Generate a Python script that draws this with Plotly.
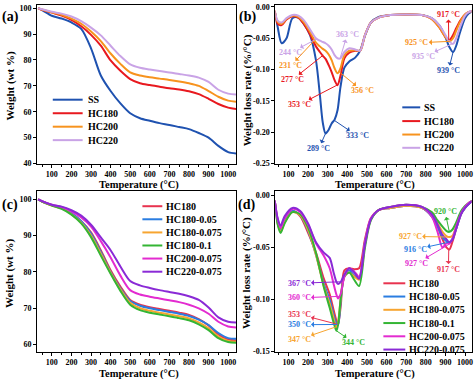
import plotly.graph_objects as go

W, H = 474, 385
FONT = "Liberation Serif"

# ---------------- DATA ----------------
# TG temperatures (°C)
T_tg = [30, 50, 100, 150, 200, 250, 300, 350, 400, 450, 500, 550, 600, 650, 700, 750, 800, 850, 900, 950, 1000, 1040]

# Panel (a) TG (wt %)
a_names = ["SS", "HC180", "HC200", "HC220"]
a_SS = [100, 99.3, 97.1, 96.0, 94.5, 92.0, 84.5, 74.0, 68.0, 63.2, 59.4, 57.5, 56.5, 55.6, 54.9, 54.1, 53.3, 51.8, 50.0, 46.8, 44.4, 43.9]
a_HC180 = [100, 99.4, 98.3, 97.2, 95.5, 93.0, 89.7, 85.5, 79.8, 75.8, 72.6, 71.0, 70.3, 69.7, 69.1, 68.6, 67.9, 66.8, 65.0, 63.0, 61.6, 61.1]
a_HC200 = [100, 99.5, 98.4, 97.5, 96.0, 94.0, 91.0, 87.3, 82.5, 78.5, 75.2, 74.0, 73.3, 72.8, 72.3, 71.7, 71.0, 70.0, 68.0, 65.8, 64.3, 63.9]
a_HC220 = [100, 99.6, 98.6, 97.9, 96.8, 95.0, 92.5, 89.5, 85.5, 81.5, 78.3, 77.0, 76.3, 75.7, 75.2, 74.6, 74.0, 73.2, 71.5, 68.5, 67.0, 66.7]

# Panel (b) DTG (%/°C)
T_b = [30, 45, 65, 90, 120, 150, 180, 210, 240, 260, 275, 289, 305, 320, 335, 350, 365, 385, 410, 440, 465,
       490, 520, 560, 620, 700, 780, 830, 870, 900, 920, 939, 955, 975, 1000, 1020, 1040]
b_SS = [-0.007, -0.032, -0.058, -0.050, -0.018, -0.017, -0.028, -0.045, -0.085, -0.140, -0.185, -0.202, -0.196,
        -0.186, -0.180, -0.165, -0.128, -0.097, -0.087, -0.081, -0.070, -0.046, -0.025, -0.016, -0.013, -0.012,
        -0.013, -0.018, -0.030, -0.048, -0.064, -0.072, -0.062, -0.040, -0.018, -0.010, -0.007]
b_HC180 = [-0.006, -0.027, -0.029, -0.020, -0.015, -0.017, -0.028, -0.044, -0.063, -0.072, -0.078, -0.083, -0.093,
           -0.104, -0.117, -0.125, -0.110, -0.082, -0.073, -0.070, -0.070, -0.045, -0.025, -0.017, -0.013, -0.012,
           -0.013, -0.019, -0.033, -0.048, -0.053, -0.045, -0.034, -0.022, -0.012, -0.008, -0.006]
b_HC200 = [-0.006, -0.024, -0.027, -0.019, -0.014, -0.016, -0.025, -0.040, -0.057, -0.063, -0.067, -0.070, -0.076,
           -0.085, -0.098, -0.106, -0.098, -0.077, -0.070, -0.069, -0.070, -0.045, -0.025, -0.017, -0.013, -0.012,
           -0.013, -0.019, -0.033, -0.048, -0.055, -0.050, -0.038, -0.024, -0.012, -0.008, -0.006]
b_HC220 = [-0.006, -0.022, -0.025, -0.018, -0.013, -0.014, -0.022, -0.036, -0.050, -0.054, -0.056, -0.058, -0.062,
           -0.068, -0.077, -0.082, -0.082, -0.072, -0.066, -0.068, -0.070, -0.045, -0.025, -0.017, -0.013, -0.012,
           -0.013, -0.018, -0.030, -0.045, -0.055, -0.059, -0.050, -0.032, -0.014, -0.008, -0.006]

# Panel (c) TG (wt %)
c_names = ["HC180", "HC180-0.05", "HC180-0.075", "HC180-0.1", "HC200-0.075", "HC220-0.075"]
c_HC180 = [100, 99.4, 98.4, 97.6, 96.1, 94.0, 90.9, 86.0, 80.5, 76.0, 72.3, 71.0, 70.3, 69.8, 69.3, 68.8, 68.2, 67.0, 65.3, 62.8, 61.4, 61.2]
c_HC180_005 = [100, 99.4, 98.4, 97.7, 96.2, 94.0, 90.6, 85.5, 80.0, 75.5, 72.0, 70.7, 70.0, 69.5, 69.0, 68.5, 67.9, 66.9, 65.4, 63.2, 61.8, 61.6]
c_HC180_0075 = [100, 99.4, 98.3, 97.5, 95.9, 93.6, 90.0, 85.0, 79.8, 75.2, 71.5, 70.0, 69.3, 68.8, 68.3, 67.8, 67.2, 66.1, 64.5, 62.2, 61.0, 60.8]
c_HC180_01 = [100, 99.4, 98.3, 97.4, 95.8, 93.4, 89.6, 84.5, 79.5, 74.8, 71.0, 69.5, 68.8, 68.3, 67.8, 67.3, 66.7, 65.6, 64.0, 61.8, 60.7, 60.5]
c_HC200_0075 = [100, 99.5, 98.5, 97.9, 96.7, 95.0, 92.5, 88.5, 84.0, 79.0, 75.0, 73.8, 73.2, 72.7, 72.2, 71.7, 71.0, 70.0, 68.5, 66.3, 65.0, 64.7]
c_HC220_0075 = [100, 99.5, 98.5, 98.0, 97.0, 95.5, 93.0, 89.5, 86.0, 81.5, 77.5, 76.3, 75.6, 75.0, 74.5, 74.0, 73.3, 72.3, 70.2, 67.5, 66.3, 66.1]

# Panel (d) DTG (%/°C)
T_d = [30, 45, 60, 80, 120, 160, 200, 240, 280, 310, 330, 344, 353, 367, 385, 410, 435, 460, 490, 520, 560,
       620, 700, 780, 830, 860, 885, 905, 920, 935, 955, 980, 1000, 1020, 1040]
d_HC180 = [-0.005, -0.024, -0.032, -0.024, -0.015, -0.020, -0.036, -0.055, -0.080, -0.095, -0.110, -0.120, -0.124,
           -0.105, -0.072, -0.070, -0.071, -0.070, -0.042, -0.022, -0.014, -0.012, -0.010, -0.012, -0.020, -0.030,
           -0.042, -0.050, -0.052, -0.045, -0.032, -0.018, -0.012, -0.008, -0.005]
d_HC180_005 = [-0.005, -0.026, -0.034, -0.025, -0.015, -0.019, -0.034, -0.057, -0.085, -0.100, -0.115, -0.123, -0.124,
               -0.100, -0.077, -0.072, -0.077, -0.080, -0.045, -0.023, -0.014, -0.012, -0.010, -0.012, -0.020, -0.030,
               -0.040, -0.044, -0.045, -0.042, -0.032, -0.018, -0.012, -0.008, -0.005]
d_HC180_0075 = [-0.005, -0.027, -0.035, -0.026, -0.016, -0.019, -0.033, -0.057, -0.087, -0.104, -0.118, -0.127, -0.122,
                -0.098, -0.078, -0.074, -0.078, -0.081, -0.047, -0.023, -0.014, -0.012, -0.010, -0.012, -0.018, -0.027,
                -0.035, -0.039, -0.040, -0.039, -0.030, -0.017, -0.011, -0.007, -0.005]
d_HC180_01 = [-0.005, -0.028, -0.036, -0.027, -0.016, -0.018, -0.031, -0.055, -0.088, -0.108, -0.122, -0.130, -0.124,
              -0.098, -0.078, -0.074, -0.081, -0.087, -0.050, -0.024, -0.014, -0.011, -0.009, -0.011, -0.016, -0.024,
              -0.030, -0.034, -0.035, -0.033, -0.026, -0.015, -0.010, -0.007, -0.005]
d_HC200_0075 = [-0.005, -0.023, -0.031, -0.022, -0.013, -0.016, -0.028, -0.046, -0.058, -0.070, -0.085, -0.095, -0.099,
                -0.094, -0.078, -0.070, -0.073, -0.078, -0.045, -0.022, -0.014, -0.011, -0.009, -0.011, -0.020, -0.035,
                -0.050, -0.046, -0.046, -0.042, -0.030, -0.017, -0.011, -0.007, -0.005]
d_HC220_0075 = [-0.005, -0.022, -0.029, -0.020, -0.012, -0.015, -0.027, -0.045, -0.055, -0.060, -0.074, -0.083, -0.085,
                -0.083, -0.076, -0.070, -0.074, -0.080, -0.047, -0.023, -0.014, -0.011, -0.009, -0.011, -0.018, -0.028,
                -0.038, -0.042, -0.045, -0.043, -0.032, -0.018, -0.012, -0.008, -0.005]

# Peak annotations: (label temperature, DTG value at peak, series index)
b_peak_T = [244, 363, 231, 277, 353, 356, 289, 333, 917, 925, 935, 939]
b_peak_V = [-0.051, -0.082, -0.054, -0.077, -0.124, -0.103, -0.202, -0.181, -0.053, -0.055, -0.059, -0.072]
b_peak_S = [3, 3, 2, 1, 1, 2, 0, 0, 1, 2, 3, 0]
d_peak_T = [920, 927, 916, 927, 917, 367, 360, 353, 350, 347, 344]
d_peak_V = [-0.035, -0.040, -0.045, -0.046, -0.052, -0.083, -0.097, -0.124, -0.124, -0.126, -0.130]
d_peak_S = [3, 2, 1, 4, 0, 5, 4, 0, 1, 2, 3]

# ---------------- STYLE / LAYOUT ----------------
a_colors = ["#1f52b0", "#e8191f", "#f7931e", "#c9a3e6"]
c_colors = ["#e8334f", "#2a7de1", "#f7a530", "#34b534", "#e32bd0", "#8a2ad6"]

# label text centres (data coords of each panel)
b_label_pos = [(111.7, -0.073), (399.5, -0.0442), (111.7, -0.094), (120.3, -0.1161), (153.8, -0.1563),
               (475.6, -0.1339), (255.3, -0.2255), (450.3, -0.2058), (915.2, -0.012), (754.8, -0.0573),
               (788.3, -0.0797), (915.2, -0.1016)]
d_label_pos = [(898.5, -0.0158), (720.8, -0.0393), (746.2, -0.0519), (754.8, -0.0651), (915.2, -0.0708),
               (153.8, -0.0843), (153.8, -0.0984), (153.8, -0.1142), (153.8, -0.1242), (153.8, -0.1384),
               (433.0, -0.1415)]

fig = go.Figure()

def add_lines(xs, series, colors, names, xa, ya):
    for s, c, n in zip(series, colors, names):
        fig.add_trace(go.Scatter(x=xs, y=s, mode="lines", name=n, showlegend=False,
                                 line=dict(color=c, width=2, shape="spline", smoothing=0.8),
                                 xaxis=xa, yaxis=ya))

add_lines(T_tg, [a_SS, a_HC180, a_HC200, a_HC220], a_colors, a_names, "x", "y")
add_lines(T_b, [b_SS, b_HC180, b_HC200, b_HC220], a_colors, a_names, "x2", "y2")
add_lines(T_tg, [c_HC180, c_HC180_005, c_HC180_0075, c_HC180_01, c_HC200_0075, c_HC220_0075], c_colors, c_names, "x3", "y3")
add_lines(T_d, [d_HC180, d_HC180_005, d_HC180_0075, d_HC180_01, d_HC200_0075, d_HC220_0075], c_colors, c_names, "x4", "y4")

tickfont = dict(family=FONT, size=8, color="black", weight="bold")

def xax(domain, rng, anchor):
    return dict(domain=domain, range=rng, anchor=anchor, showline=True, linecolor="black", linewidth=1,
                mirror=True, ticks="outside", ticklen=3, tickcolor="black", tickmode="linear", tick0=100,
                dtick=100, minor=dict(ticks="outside", ticklen=2, dtick=50, tickcolor="black"),
                showgrid=False, zeroline=False, tickfont=tickfont, ticklabeloverflow="allow")

def yax(domain, rng, anchor, vals, texts):
    return dict(domain=domain, range=rng, anchor=anchor, showline=True, linecolor="black", linewidth=1,
                mirror=True, ticks="outside", ticklen=3, tickcolor="black", tickmode="array",
                tickvals=vals, ticktext=texts, showgrid=False, zeroline=False, tickfont=tickfont,
                ticklabeloverflow="allow")

top_dom = [1 - 164.5 / H, 1 - 2.9 / H]
bot_dom = [1 - 356 / H, 1 - 193 / H]
left_dom = [37.3 / W, 237 / W]
right_dom = [276.5 / W, 473.5 / W]

a_ticks = [40, 50, 60, 70, 80, 90, 100]
b_ticks = [0.0, -0.05, -0.10, -0.15, -0.20, -0.25]
c_ticks = [60, 70, 80, 90, 100]
d_ticks = [0.0, -0.05, -0.10, -0.15]
fmt = lambda v: ("%.2f" % v).replace("-0.00", "0.00")

fig.update_layout(
    width=W, height=H, margin=dict(l=0, r=0, t=0, b=0),
    paper_bgcolor="white", plot_bgcolor="white",
    font=dict(family=FONT, color="black"),
    xaxis=xax(left_dom, [25, 1040], "y"),
    yaxis=yax(top_dom, [40, 101.3], "x", a_ticks, [str(v) for v in a_ticks]),
    xaxis2=xax(right_dom, [33, 1033], "y2"),
    yaxis2=yax(top_dom, [-0.25, 0.0033], "x2", b_ticks, [fmt(v) for v in b_ticks]),
    xaxis3=xax(left_dom, [25, 1040], "y3"),
    yaxis3=yax(bot_dom, [58.1, 102.16], "x3", c_ticks, [str(v) for v in c_ticks]),
    xaxis4=xax(right_dom, [33, 1033], "y4"),
    yaxis4=yax(bot_dom, [-0.15, 0.0038], "x4", d_ticks, [fmt(v) for v in d_ticks]),
)

def ptxt(px, py, text, size, xanchor="center", **kw):
    fig.add_annotation(x=px / W, y=1 - py / H, xref="paper", yref="paper", text=text, showarrow=False,
                       xanchor=xanchor, yanchor="middle",
                       font=dict(family=FONT, size=size, color="black", weight="bold"), **kw)

# axis titles
for cx, cy in [(140, 186.5), (377, 186.5), (140, 378.5), (377, 378.5)]:
    ptxt(cx, cy, "Temperature (°C)", 10.5)
ptxt(10, 85, "Weight (wt %)", 11, textangle=-90)
ptxt(248, 90, "Weight loss rate (%/°C)", 11, textangle=-90)
ptxt(10, 276, "Weight (wt %)", 11, textangle=-90)
ptxt(248, 276, "Weight loss rate (%/°C)", 11, textangle=-90)

# panel labels
ptxt(11, 15, "(a)", 14)
ptxt(249, 15, "(b)", 14)
ptxt(10, 207, "(c)", 14)
ptxt(248, 207, "(d)", 14)

# legends (manual, compact)
def legend(names, colors, x0, x1, xt, ys, size):
    for n, c, yy in zip(names, colors, ys):
        fig.add_shape(type="line", xref="paper", yref="paper", x0=x0 / W, x1=x1 / W,
                      y0=1 - yy / H, y1=1 - yy / H, line=dict(color=c, width=2))
        ptxt(xt, yy, n, size, xanchor="left")

legend(a_names, a_colors, 53, 83, 86, [99.5, 113.3, 127, 140.7], 10)
legend(a_names, a_colors, 404, 422, 424, [107.3, 121.3, 135, 148.5], 10)
legend(c_names, c_colors, 143, 163, 165, [208, 221.3, 234.7, 248, 261.3, 274.7], 10)
legend(c_names, c_colors, 385, 407, 409, [286.5, 300, 313.5, 327, 340.5, 354], 10)

# peak annotations
def peaks(Ts, Vs, Ss, pos, colors, xa, ya):
    for t, v, s, (lx, ly) in zip(Ts, Vs, Ss, pos):
        fig.add_annotation(x=t, y=v, xref=xa, yref=ya, axref=xa, ayref=ya, ax=lx, ay=ly,
                           text="%d °C" % t, showarrow=True, arrowside="start", arrowhead=2,
                           arrowsize=0.9, arrowwidth=1, arrowcolor=colors[s], standoff=0, startstandoff=0,
                           borderpad=0,
                           font=dict(family=FONT, size=8, color=colors[s], weight="bold"))

peaks(b_peak_T, b_peak_V, b_peak_S, b_label_pos, a_colors, "x2", "y2")
peaks(d_peak_T, d_peak_V, d_peak_S, d_label_pos, c_colors, "x4", "y4")

fig.write_html("out.html", config={"displayModeBar": False},
               post_script="document.body.style.margin='0px';")
